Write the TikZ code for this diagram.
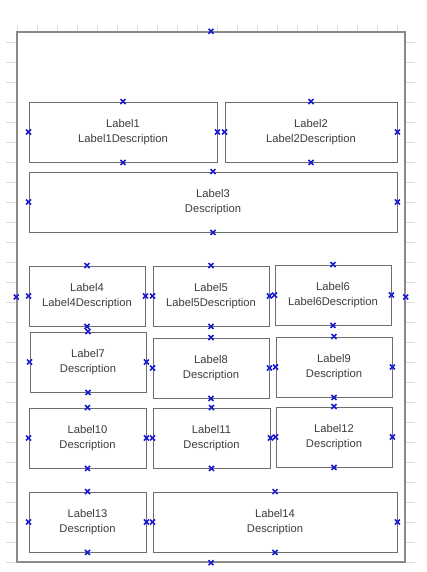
\documentclass[tikz,border=0pt]{standalone}
\usepackage{fontspec}
\setmainfont{Liberation Sans}
\usetikzlibrary{shapes.misc}
\definecolor{rulergray}{HTML}{DCDCDC}
\definecolor{boxgray}{HTML}{6E6E6E}
\definecolor{framegray}{HTML}{8A8A8A}
\definecolor{textgray}{HTML}{3C3C3C}
\definecolor{handleblue}{HTML}{1A1AD0}
\begin{document}
\begin{tikzpicture}[x=1pt,y=-1pt,
  box/.style={draw=boxgray,line width=0.9pt,inner sep=0pt,minimum height=60pt,
    align=center,text=textgray,font=\fontsize{11.2}{15}\selectfont},
  handle/.style={cross out,draw=handleblue,line width=1.5pt,minimum size=3.5pt,inner sep=0pt}]
\useasboundingbox (0,0) rectangle (426,572);
% ruler
\foreach \t in {17,37,...,397}{\draw[rulergray,line width=0.6pt] (\t,25)--(\t,32);}
\foreach \t in {42,62,...,562}{
  \draw[rulergray,line width=0.6pt] (6,\t)--(17,\t);
  \draw[rulergray,line width=0.6pt] (405,\t)--(415,\t);}
% frame
\node[draw=framegray,line width=1.4pt,inner sep=0pt,minimum width=388pt,minimum height=530pt] (f) at (211,297){};
% boxes
\node[box,minimum width=188pt] (l1) at (123,132){Label1\\Label1Description};
\node[box,minimum width=172pt] (l2) at (311,132){Label2\\Label2Description};
\node[box,minimum width=368pt] (l3) at (213,202){Label3\\Description};
\node[box,minimum width=116pt] (l4) at (87,296){Label4\\Label4Description};
\node[box,minimum width=116pt] (l5) at (211,296){Label5\\Label5Description};
\node[box,minimum width=116pt] (l6) at (333,295){Label6\\Label6Description};
\node[box,minimum width=116pt] (l7) at (88,362){Label7\\Description};
\node[box,minimum width=116pt] (l8) at (211,368){Label8\\Description};
\node[box,minimum width=116pt] (l9) at (334,367){Label9\\Description};
\node[box,minimum width=117pt] (l10) at (87.5,438){Label10\\Description};
\node[box,minimum width=117pt] (l11) at (211.5,438){Label11\\Description};
\node[box,minimum width=116pt] (l12) at (334,437){Label12\\Description};
\node[box,minimum width=117pt] (l13) at (87.5,522){Label13\\Description};
\node[box,minimum width=244pt] (l14) at (275,522){Label14\\Description};
% handles
\foreach \n in {f,l1,l2,l3,l4,l5,l6,l7,l8,l9,l10,l11,l12,l13,l14}
  \foreach \a in {north,south,east,west}
    \node[handle] at (\n.\a){};
\end{tikzpicture}
\end{document}
